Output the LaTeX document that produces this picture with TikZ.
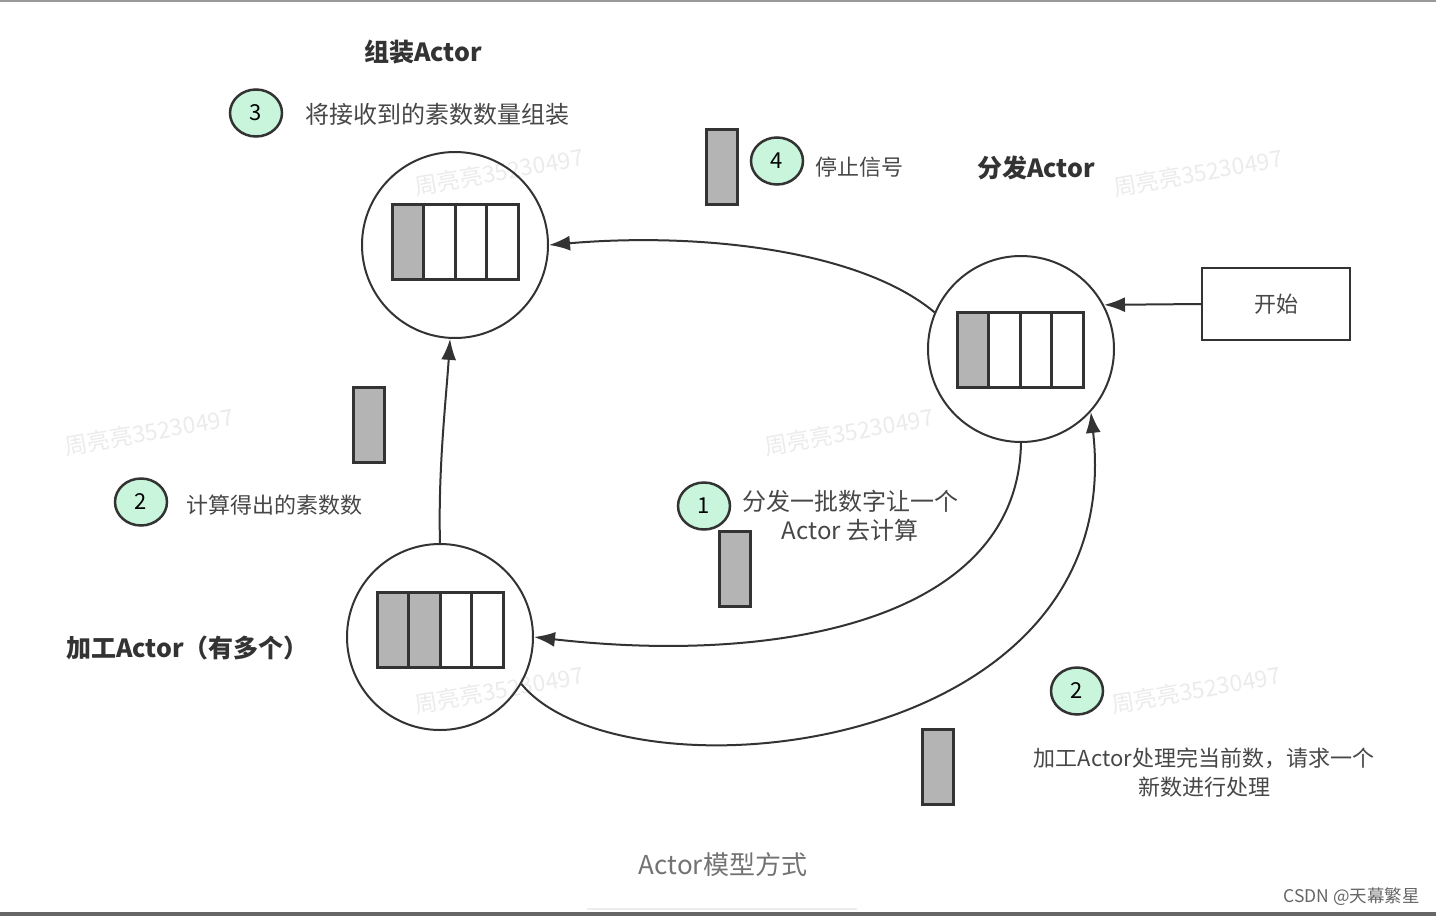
\documentclass[tikz,border=0pt]{standalone}
\usepackage{fontspec}
\setmainfont{Noto Sans CJK SC}
\usetikzlibrary{arrows.meta,shapes.geometric}
\definecolor{mint}{HTML}{C8F5DC}
\definecolor{cellgray}{HTML}{B4B4B4}
\definecolor{ink}{HTML}{333333}
\tikzset{
	actor/.style={circle,draw=ink,line width=2pt,minimum size=186pt,inner sep=0pt},
	cell/.style={draw=ink,line width=3pt},
	msg/.style={draw=ink,fill=cellgray,line width=2.5pt,minimum width=31pt,minimum height=75pt,inner sep=0pt},
	stepnum/.style={ellipse,draw=ink,fill=mint,line width=2.5pt,minimum width=52pt,minimum height=47pt,inner sep=0pt,font=\fontsize{22}{22}\selectfont},
	flow/.style={draw=ink,line width=2pt,-{Latex[length=21pt,width=15pt]}},
	note/.style={font=\fontsize{22}{29}\selectfont,text=ink!90,inner sep=0pt},
	bignote/.style={note,font=\fontsize{24}{29}\selectfont},
	title/.style={font=\bfseries\fontsize{25}{28}\selectfont,text=ink,inner sep=0pt},
	wmark/.style={font=\fontsize{23}{23}\selectfont,text=black!8,rotate=10,inner sep=0pt}
}
\newcommand{\stepmark}[3]{\node[stepnum] at (#1) (#2) {#3}}
\newcommand{\msgbox}[2]{\node[msg] at (#1) (#2) {}}
\newcommand{\queuecells}[2]{%
	\foreach \k in {0,...,3}{%
		\ifnum\k<#2\relax\def\cellfill{cellgray}\else\def\cellfill{white}\fi
		\draw[cell,fill=\cellfill,shift={(#1)}] (\k*31.5-63,-37.5) rectangle ++(31.5,75);
	}%
}

\begin{document}
\begin{tikzpicture}[x=1pt,y=-1pt]
			\useasboundingbox (0,0) rectangle (1436,916);
			\draw[black!40,line width=2pt] (0,1) -- (1436,1);
			\fill[black!60] (0,912) rectangle (1436,916);
			\draw[black!7,line width=2pt] (587,909) -- (857,909);

			\foreach \wx/\wy [count=\wi] in {499/172,1198/173,149/432,849/432,499/690,1196/690}
				\node[wmark] (wm\wi) at (\wx,\wy) {周亮亮35230497};

			\node[actor] (assemble) at (455,245) {};
			\node[actor] (dispatch) at (1021,349) {};
			\node[actor] (worker)   at (440,637) {};
			\node[note,draw=ink,line width=2.5pt,minimum width=148pt,minimum height=72pt] (start) at (1276,304) {开始};

			\queuecells{455,242}{1};
			\queuecells{1020,350}{1};
			\queuecells{440,630}{2};

			\msgbox{722,167}{stopmsg};
			\msgbox{369,425}{countmsg};
			\msgbox{735,569}{batchmsg};
			\msgbox{938,767}{reqmsg};

			\stepmark{256,113}{s3}{3};
			\stepmark{777,161}{s4}{4};
			\stepmark{141,502}{s2a}{2};
			\stepmark{704,506}{s1}{1};
			\stepmark{1077,691}{s2b}{2};

			\node[title] (assembletitle) at (423,52) {组装Actor};
			\node[title] (dispatchtitle) at (1036,168) {分发Actor};
			\node[title,anchor=west] (workertitle) at (66,648) {加工Actor（有多个）};
			\node[bignote,anchor=west] (s3text) at (305,114) {将接收到的素数数量组装};
			\node[note,anchor=west] (s4text) at (815,167) {停止信号};
			\node[note,anchor=west] (s2atext) at (186,505) {计算得出的素数数};
			\node[bignote,align=center] (s1text) at (850,516) {分发一批数字让一个\\Actor 去计算};
			\node[note,align=center] (s2btext) at (1204,773) {加工Actor处理完当前数，请求一个\\新数进行处理};
			\node[note,font=\fontsize{26}{26}\selectfont,text=black!55] (caption) at (723,865) {Actor模型方式};
			\node[font=\fontsize{17.5}{17.5}\selectfont,text=black!60,anchor=east,inner sep=0pt] (csdn) at (1420,897) {CSDN @天幕繁星};

			\draw[flow] (start.west) -- (dispatch.28);
			\draw[flow] (dispatch.157) .. controls (860,250) and (700,232) .. (assemble.east);
			\draw[flow] (worker.north) .. controls (438,470) and (446,400) .. (assemble.-93);
			\draw[flow] (dispatch.south) .. controls (1018,620) and (780,665) .. (worker.east);
			\draw[flow] (worker.-30) .. controls (620,805) and (1130,760) .. (dispatch.-42);
			%\node[draw,fit=(assemble)(dispatch)(worker)] {};
\end{tikzpicture}
\end{document}
